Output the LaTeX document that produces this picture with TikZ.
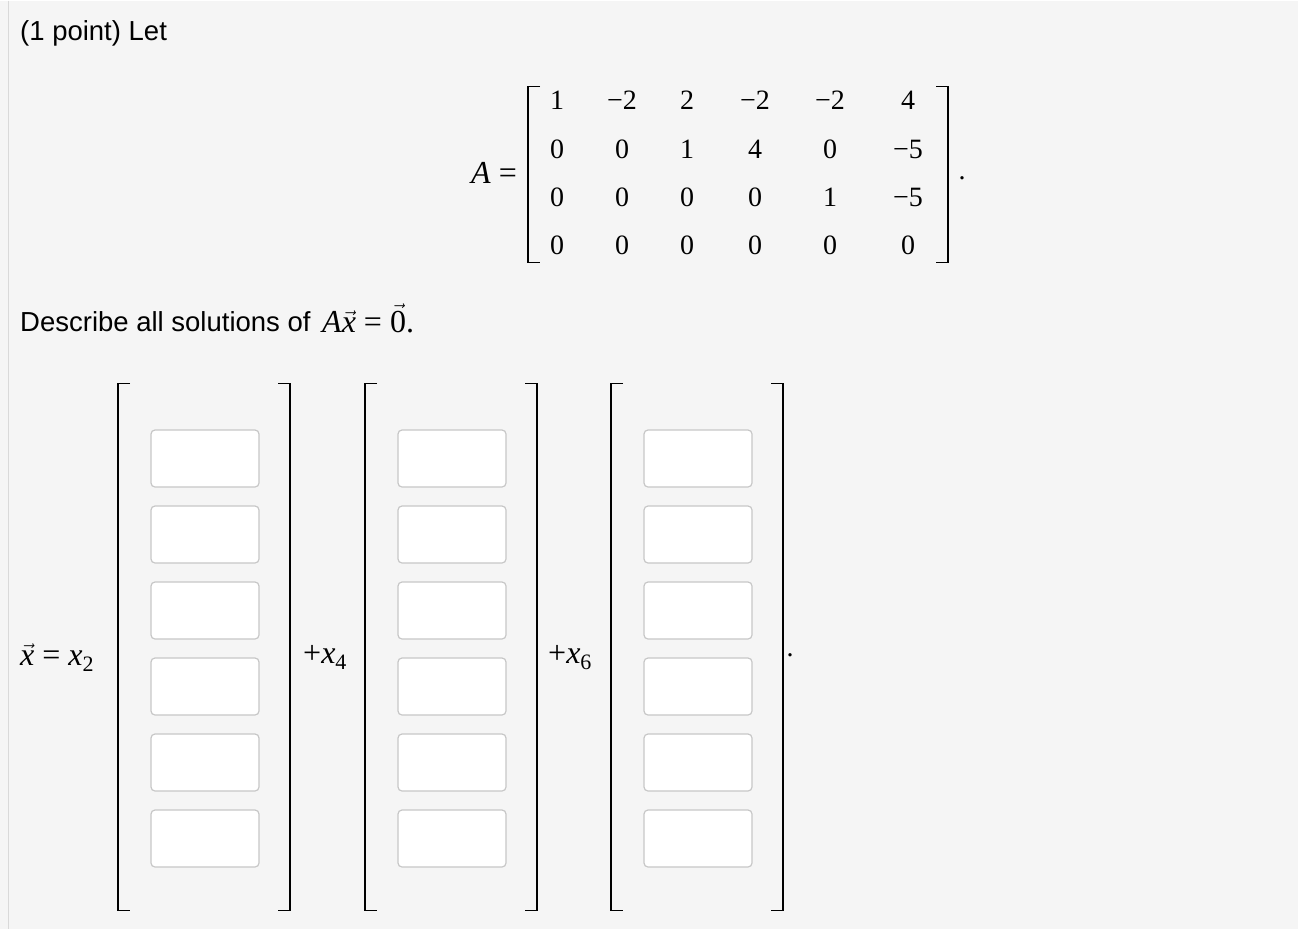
\documentclass[tikz,border=0pt]{standalone}
\usepackage{fontspec}
\setmainfont{Liberation Sans}
\newfontfamily\serif{Liberation Serif}
\newcommand{\iv}[1]{\hbox{\serif\itshape #1}}
\newcommand{\vx}{$\vec{\iv{x}}$}
\begin{document}
\begin{tikzpicture}[x=1pt,y=-1pt,
  txt/.style={inner sep=0,font=\fontsize{27.5}{30}\selectfont},
  ent/.style={inner sep=0,font=\serif\fontsize{28}{32}\selectfont},
  lab/.style={inner sep=0,font=\serif\fontsize{32}{36}\selectfont},
  ansbox/.style={draw=black!22,fill=white,rounded corners=4pt,line width=1.2pt,minimum width=108pt,minimum height=57pt,inner sep=0},
  brk/.style={line width=1.2pt}]
\fill[black!4] (0,0) rectangle (1298,928);
\draw[black!15,line width=1pt] (8,0) -- (8,928);
\useasboundingbox (0,0) rectangle (1298,928);
\node[txt,anchor=west] (title) at (20,33) {(1 point) Let};
\node[lab,anchor=east] (A) at (517,172) {\itshape A\upshape\ =};
% matrix brackets
\draw[brk] (540,86) -- (528,86) -- (528,262) -- (540,262);
\draw[brk] (936,86) -- (948,86) -- (948,262) -- (936,262);
\def\row#1#2#3#4#5#6#7#8{%
 \node[ent] (m#8a) at (557,#7) {#1};
 \node[ent] (m#8b) at (622,#7) {#2};
 \node[ent] (m#8c) at (687,#7) {#3};
 \node[ent] (m#8d) at (755,#7) {#4};
 \node[ent] (m#8e) at (830,#7) {#5};
 \node[ent] (m#8f) at (908,#7) {#6};}
\row{1}{−2}{2}{−2}{−2}{4}{100}{1}
\row{0}{0}{1}{4}{0}{−5}{149}{2}
\row{0}{0}{0}{0}{1}{−5}{197}{3}
\row{0}{0}{0}{0}{0}{0}{245}{4}
\node[ent] (dot1) at (962,178) {.};
\node[txt,anchor=west] (desc) at (20,321) {Describe all solutions of};
\node[lab,anchor=west] (eq) at (322,318) {\itshape A\upshape\vx\ = $\vec{\hbox{0}}$.};
% solution vectors
\foreach \k/\L in {1/118,2/365,3/611}{
  \draw[brk] (\L+12,383) -- (\L,383) -- (\L,910) -- (\L+12,910);
  \draw[brk] (\L+160,383) -- (\L+172,383) -- (\L+172,910) -- (\L+160,910);
  \foreach \j in {0,...,5}{
    \node[ansbox] (b\k\j) at (\L+87,458+76*\j) {};
  }
}
\node[lab,anchor=west] (l1) at (20,657) {\vx\ = \itshape x\upshape\raisebox{-6pt}{\fontsize{22}{22}\selectfont 2}};
\node[lab,anchor=west] (l2) at (303,657) {+\itshape x\upshape\raisebox{-6pt}{\fontsize{22}{22}\selectfont 4}};
\node[lab,anchor=west] (l3) at (548,657) {+\itshape x\upshape\raisebox{-6pt}{\fontsize{22}{22}\selectfont 6}};
\node[ent] (dot2) at (790,655) {.};
\end{tikzpicture}
\end{document}
